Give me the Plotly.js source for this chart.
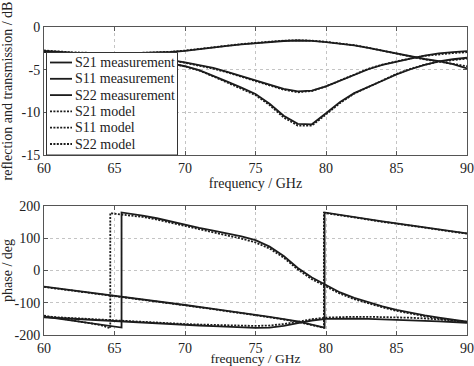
<!DOCTYPE html>
<html>
<head>
<meta charset="utf-8">
<script src="https://cdn.plot.ly/plotly-3.0.1.min.js"></script>
<style>html,body{margin:0;padding:0;background:#fff;}#chart{width:474px;height:366px;}</style>
</head>
<body>
<div id="chart"></div>
<script>
// ---------- data ----------
const freq = [60,61,62,63,64,65,66,67,68,69,70,71,72,73,74,75,76,77,78,79,80,81,82,83,84,85,86,87,88,89,90];

// magnitude (dB)
const s21MeasDb = [-2.8,-2.92,-3.0,-3.04,-3.06,-3.06,-3.05,-3.03,-3.0,-2.93,-2.8,-2.58,-2.38,-2.2,-2.04,-1.9,-1.76,-1.64,-1.58,-1.63,-1.78,-1.95,-2.15,-2.45,-2.78,-3.1,-3.45,-3.75,-4.0,-4.35,-4.85];
const s11MeasDb = [-2.9,-3.1,-3.25,-3.4,-3.5,-3.6,-3.68,-3.75,-3.8,-3.88,-4.15,-4.45,-4.8,-5.25,-5.75,-6.2,-6.75,-7.25,-7.55,-7.45,-6.95,-6.3,-5.6,-4.95,-4.45,-4.05,-3.7,-3.35,-3.1,-2.95,-2.82];
const s22MeasDb = [-2.9,-3.1,-3.3,-3.45,-3.6,-3.75,-3.9,-4.0,-4.12,-4.25,-4.6,-5.05,-5.7,-6.4,-7.1,-7.85,-9.0,-10.4,-11.35,-11.4,-10.1,-8.8,-7.75,-7.05,-6.3,-5.55,-4.95,-4.45,-4.02,-3.78,-3.6];
const s21ModelDb = [-2.75,-2.88,-2.97,-3.02,-3.05,-3.05,-3.04,-3.02,-2.98,-2.9,-2.76,-2.55,-2.34,-2.16,-2.0,-1.86,-1.72,-1.6,-1.55,-1.6,-1.74,-1.92,-2.13,-2.43,-2.77,-3.12,-3.5,-3.8,-4.05,-4.3,-4.6];
const s11ModelDb = [-2.85,-3.05,-3.2,-3.35,-3.47,-3.57,-3.66,-3.74,-3.8,-3.9,-4.2,-4.5,-4.88,-5.32,-5.82,-6.28,-6.85,-7.35,-7.65,-7.5,-6.95,-6.25,-5.55,-4.9,-4.4,-4.0,-3.68,-3.38,-3.18,-3.05,-2.95];
const s22ModelDb = [-2.85,-3.05,-3.25,-3.42,-3.57,-3.72,-3.87,-3.98,-4.1,-4.24,-4.62,-5.1,-5.78,-6.5,-7.2,-7.98,-9.15,-10.6,-11.55,-11.55,-10.25,-8.9,-7.8,-7.05,-6.28,-5.5,-4.9,-4.42,-4.05,-3.85,-3.7];

// phase (deg)
const s21MeasPhF = [60,62,64,66,68,70,72,74,76,78,79,79.9,79.9,81,82,84,86,88,90];
const s21MeasPh  = [-50,-61,-73,-84,-95,-107,-119,-131,-144,-158,-167,-177,180,172,166,152,140,127,115];
const s21ModelPhF = [60,62,64,66,68,70,72,74,76,78,79,79.85,79.85,81,82,84,86,88,90];
const s21ModelPh  = [-51,-62,-74,-85,-96,-108,-120,-132,-145,-159,-168,-178,179,171,165,151,139,126,114];

const s11MeasPhF = [60,61,62,63,64,65,65.5,65.5,66,67,68,69,70,71,72,73,74,75,76,77,78,79,80,81,82,83,84,85,86,87,88,89,90];
const s11MeasPh  = [-143,-149,-155,-161,-167,-173,-177,180,177,170,162,152,141,132,124,116,106,94,74,45,8,-22,-45,-68,-85,-99,-111,-122,-131,-139,-146,-153,-159];
const s11ModelPhF = [60,61,62,63,64,64.7,64.7,65,66,67,68,69,70,71,72,73,74,75,76,77,78,79,80,81,82,83,84,85,86,87,88,89,90];
const s11ModelPh  = [-140,-147,-154,-161,-169,-179,178,176,172,166,158,149,138,128,119,110,99,87,68,40,3,-27,-50,-72,-89,-102,-114,-125,-134,-142,-149,-155,-161];

const s22MeasPh  = [-145,-147.5,-150,-152.5,-155,-157.5,-160,-162,-164.5,-166.5,-168.5,-170.5,-172.5,-175,-177,-178,-177,-172,-163,-155,-150,-149,-149,-150,-151,-153,-154.5,-156,-158,-160,-162];
const s22ModelPh = [-143,-145.5,-148,-150.5,-153,-155.5,-158,-160,-162,-164,-166,-167.5,-169,-170.5,-171.5,-172,-170.5,-166,-159,-151,-146,-144,-143.5,-143.5,-144,-145,-146.5,-148.5,-151,-155,-159];

const legendNames = ['S21 measurement','S11 measurement','S22 measurement','S21 model','S11 model','S22 model'];
const dbTickVals = [0,-5,-10,-15];
const dbTickText = ['0','-5','-10','-15'];
const phTickVals = [-200,-100,0,100,200];
const phTickText = ['-200','-100','0','100','200'];
const xTickVals = [60,65,70,75,80,85,90];
const xLabel = 'frequency / GHz';
const yLabelTop = 'reflection and transmission / dB';
const yLabelBottom = 'phase / deg';

// ---------- styling ----------
const W = 474, H = 366;
const M = {l: 44, r: 7, t: 27, b: 31};
const plotW = W - M.l - M.r, plotH = H - M.t - M.b;
const px2x = p => (p - M.l) / plotW;      // pixel -> paper x
const px2y = p => (H - M.b - p) / plotH;  // pixel -> paper y

const ink = '#1c1c1c';
const solid = {color: ink, width: 1.8};
const dotted = {color: ink, width: 1.8, dash: '2px,1.4px'};
const serif = 'Liberation Serif, Times New Roman, serif';

function tr(x, y, name, line, xa, ya) {
  return {x: x, y: y, name: name, type: 'scatter', mode: 'lines', line: line,
          xaxis: xa, yaxis: ya, showlegend: false, hoverinfo: 'skip'};
}

const data = [
  tr(freq, s21MeasDb, legendNames[0], solid, 'x', 'y'),
  tr(freq, s11MeasDb, legendNames[1], solid, 'x', 'y'),
  tr(freq, s22MeasDb, legendNames[2], solid, 'x', 'y'),
  tr(freq, s21ModelDb, legendNames[3], dotted, 'x', 'y'),
  tr(freq, s11ModelDb, legendNames[4], dotted, 'x', 'y'),
  tr(freq, s22ModelDb, legendNames[5], dotted, 'x', 'y'),
  tr(s21ModelPhF, s21ModelPh, legendNames[3], dotted, 'x2', 'y2'),
  tr(s11ModelPhF, s11ModelPh, legendNames[4], dotted, 'x2', 'y2'),
  tr(freq, s22ModelPh, legendNames[5], dotted, 'x2', 'y2'),
  tr(s21MeasPhF, s21MeasPh, legendNames[0], solid, 'x2', 'y2'),
  tr(s11MeasPhF, s11MeasPh, legendNames[1], solid, 'x2', 'y2'),
  tr(freq, s22MeasPh, legendNames[2], solid, 'x2', 'y2')
];

// ---------- legend box (top panel) ----------
const legendStyles = [solid, solid, solid, dotted, dotted, dotted];
const shapes = [{
  type: 'rect', xref: 'paper', yref: 'paper', layer: 'above',
  x0: px2x(46.5), x1: px2x(177.5), y0: px2y(155), y1: px2y(52.5),
  fillcolor: '#fff', line: {color: '#333', width: 1}
}];
const annotations = [];
legendNames.forEach((nm, i) => {
  const yp = 62.5 + 16.3 * i;
  shapes.push({
    type: 'line', xref: 'paper', yref: 'paper', layer: 'above',
    x0: px2x(50), x1: px2x(72), y0: px2y(yp), y1: px2y(yp),
    line: legendStyles[i]
  });
  annotations.push({
    xref: 'paper', yref: 'paper', x: px2x(72.5), y: px2y(yp),
    xanchor: 'left', yanchor: 'middle', showarrow: false, text: nm,
    font: {family: serif, size: 14, color: '#222'}
  });
});

const axisCommon = {
  showline: true, linecolor: '#555', linewidth: 1, mirror: 'allticks',
  ticks: 'inside', ticklen: 4, tickcolor: '#555', tickwidth: 1,
  showgrid: true, gridcolor: '#c4c4c4', griddash: 'dot', gridwidth: 1,
  zeroline: false, automargin: false,
  tickfont: {family: serif, size: 14, color: '#222'}
};

const layout = {
  width: W, height: H,
  margin: M,
  paper_bgcolor: '#fff', plot_bgcolor: '#fff',
  font: {family: serif, size: 14, color: '#222'},
  showlegend: false,
  shapes: shapes,
  annotations: annotations,
  xaxis: Object.assign({}, axisCommon, {
    domain: [0, 1], anchor: 'y', range: [60, 90], tickmode: 'array', tickvals: xTickVals,
    title: {text: xLabel, font: {family: serif, size: 14, color: '#222'}, standoff: 2}
  }),
  yaxis: Object.assign({}, axisCommon, {
    domain: [px2y(155), 1], anchor: 'x', range: [-15, 0],
    tickmode: 'array', tickvals: dbTickVals, ticktext: dbTickText,
    title: {text: yLabelTop, font: {family: serif, size: 14, color: '#222'}, standoff: 6}
  }),
  xaxis2: Object.assign({}, axisCommon, {
    domain: [0, 1], anchor: 'y2', range: [60, 90], tickmode: 'array', tickvals: xTickVals,
    title: {text: xLabel, font: {family: serif, size: 13.5, color: '#222'}, standoff: 5}
  }),
  yaxis2: Object.assign({}, axisCommon, {
    domain: [0, px2y(206)], anchor: 'x2', range: [-200, 200],
    tickmode: 'array', tickvals: phTickVals, ticktext: phTickText,
    title: {text: yLabelBottom, font: {family: serif, size: 14, color: '#222'}, standoff: 6}
  })
};

Plotly.newPlot('chart', data, layout, {displayModeBar: false, staticPlot: true});
</script>
</body>
</html>
